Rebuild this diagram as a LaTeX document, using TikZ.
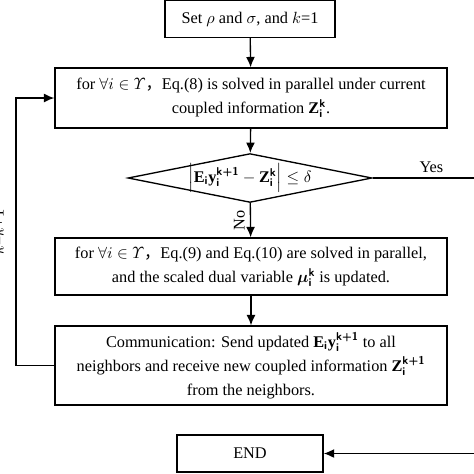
\documentclass[tikz,border=0pt]{standalone}
\usepackage{amsmath,amssymb}
\usepackage{fontspec}
\setmainfont{Liberation Serif}
\newfontfamily\cjk{Noto Sans CJK SC}
\usepackage{tikz}
\usetikzlibrary{arrows.meta,shapes.geometric}

\newcommand{\bsf}[1]{\text{\sffamily\bfseries #1}}

\tikzset{
  box/.style={draw, line width=0.9pt, align=center, inner sep=0pt},
  cond/.style={draw, line width=0.9pt, diamond, aspect=5, inner xsep=0pt, inner ysep=-1.8pt},
  flow/.style={line width=0.9pt, ->}
}

\begin{document}
\begin{tikzpicture}[x=0.675pt,y=-0.675pt,>={Latex[length=7pt,width=6pt]},
    font=\fontsize{11}{16.2}\selectfont]
    \useasboundingbox (0,0) rectangle (474,474);

    % boxes
    \node[box, minimum width=114.8pt, minimum height=25pt] (set) at (250,19)
      {Set $\rho$ and $\sigma$, and $k$=1};
    \node[box, minimum width=264.6pt, minimum height=40.5pt] (solve) at (251,98)
      {for $\forall i\in\varUpsilon${\cjk ，}Eq.(8) is solved in parallel under current\\
       coupled information $\mathbf{Z}_{\bsf{i}}^{\bsf{k}}$.};
    \node[cond, minimum width=164.7pt, minimum height=33pt] (check) at (250,178)
      {$\left|\mathbf{E}_{\bsf{i}}\mathbf{y}_{\bsf{i}}^{\bsf{k+1}}-\mathbf{Z}_{\bsf{i}}^{\bsf{k}}\right|\le\delta$};
    \node[box, minimum width=264.6pt, minimum height=38.5pt] (update) at (251,266.5)
      {for $\forall i\in\varUpsilon${\cjk ，}Eq.(9) and Eq.(10) are solved in parallel,\\
       and the scaled dual variable $\boldsymbol{\mu}_{\bsf{i}}^{\bsf{k}}$ is updated.};
    \node[box, minimum width=264.6pt, minimum height=53.3pt] (comm) at (251,365.5)
      {Communication: Send updated $\mathbf{E}_{\bsf{i}}\mathbf{y}_{\bsf{i}}^{\bsf{k+1}}$ to all\\
       neighbors and receive new coupled information $\mathbf{Z}_{\bsf{i}}^{\bsf{k+1}}$\\
       from the neighbors.};
    \node[box, minimum width=98.6pt, minimum height=25pt] (end) at (250,453.5) {END};

    % free ends on the right
    \coordinate (yesend) at (474,178);
    \coordinate (endin) at (474,453.5);
    \coordinate (back) at (16,365.5);

    % connectors
    \draw[flow] (set) -- (solve);
    \draw[flow] (solve) -- (check);
    \draw[flow] (check) -- node[rotate=90, anchor=south] {No} (update);
    \draw[flow] (update) -- (comm);
    \draw[line width=0.9pt] (check.east) -- node[above, pos=0.58] {Yes} (yesend);
    \draw[flow] (endin) -- (end);
    \draw[flow] (comm.west) -- (back) |- (solve.west);

    % loop label, cut at the edge
    \node[rotate=90] (incr) at (-2,232) {$k$=$k$+1};
  \end{tikzpicture}
\end{document}
